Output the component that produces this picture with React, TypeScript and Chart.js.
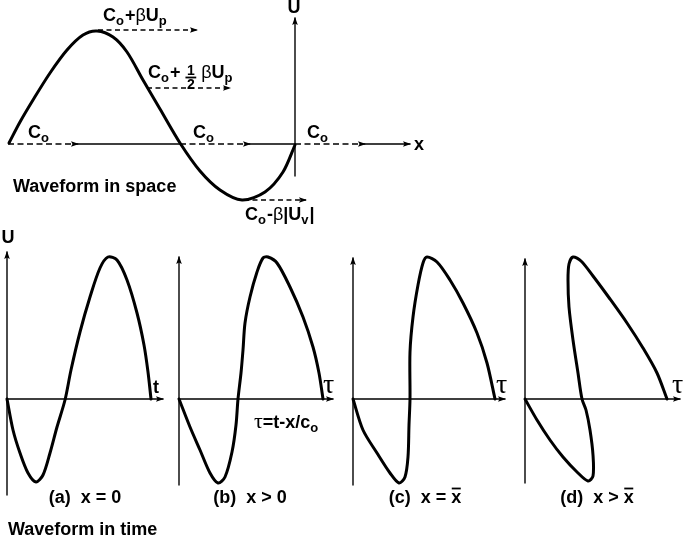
import React, { useEffect, useRef } from "react";
import { Chart, registerables } from "chart.js";

Chart.register(...registerables);

type P = [number, number];

// ---- Waveform in space ----
const SPACE_WAVE: P[] = [
  [9, 143], [20, 122], [33, 100], [50, 73], [67, 50], [83, 35], [97, 31], [113, 37],
  [127, 52], [143, 80], [160, 109], [180, 143], [200, 171], [220, 190], [242, 200],
  [265, 192], [283, 172], [295, 145],
];
const SPACE_AXIS_DASHED: P[][] = [
  [[8, 144], [78, 144]],
  [[180, 144], [250, 144]],
  [[295, 144], [365, 144]],
];
const SPACE_AXIS_SOLID: P[][] = [
  [[78, 144], [180, 144]],
  [[250, 144], [295, 144]],
  [[365, 144], [410, 144]],
];
const SPACE_U_AXIS: P[] = [[295, 176], [295, 18]];
const LEVEL_ARROWS: P[][] = [
  [[98, 30], [197, 30]],
  [[147, 88], [230, 88]],
  [[244, 200], [306, 200]],
];

// ---- Waveforms in time ----
const WAVE_A: P[] = [
  [7, 399], [13, 430], [20, 453], [28, 473], [36, 482], [43, 475], [50, 453], [57, 427],
  [65, 400], [71, 370], [80, 332], [90, 297], [100, 268], [108, 257], [117, 260],
  [127, 280], [137, 313], [144, 345], [148, 372], [151, 399],
];
const WAVE_B: P[] = [
  [179, 399], [190, 427], [200, 450], [210, 473], [218, 483], [225, 477], [232, 452],
  [236, 425], [238, 399], [241, 373], [243, 350], [245, 323], [250, 297], [257, 272],
  [263, 258], [268, 257], [277, 263], [290, 287], [303, 317], [313, 347], [319, 373], [323, 399],
];
const WAVE_C: P[] = [
  [353, 399], [363, 430], [377, 453], [390, 473], [399, 483], [405, 477], [408, 457],
  [409, 425], [410, 399], [410, 352], [413, 317], [418, 285], [423, 263], [427, 257],
  [437, 262], [450, 280], [463, 303], [477, 333], [487, 363], [495, 399],
];
const WAVE_D: P[] = [
  [525, 399], [537, 420], [550, 440], [563, 457], [577, 472], [588, 481], [593, 476],
  [593, 455], [590, 430], [586, 410], [582, 399], [578, 373], [573, 340], [569, 307],
  [568, 280], [569, 264], [573, 257], [581, 261], [593, 276], [610, 299], [627, 323],
  [643, 348], [657, 373], [667, 399],
];
const TIME_AXES_V: P[][] = [
  [[7, 495], [7, 252]],
  [[179, 485], [179, 257]],
  [[353, 485], [353, 258]],
  [[525, 483], [525, 259]],
];
const TIME_AXES_H: P[][] = [
  [[7, 399], [163, 399]],
  [[179, 399], [333, 399]],
  [[353, 399], [505, 399]],
  [[525, 399], [680, 399]],
];

// ---- Texts (anchor x, baseline y, alignment) ----
const LABEL_TEXTS: string[] = [
  "C_o+βU_p", "C_o+ {1/2} βU_p", "C_o", "C_o", "C_o", "C_o-β|U_v|", "Waveform in space",
  "U", "x", "U", "t", "τ", "τ", "τ", "τ=t-x/c_o",
  "(a)  x = 0", "(b)  x > 0", "(c)  x = ^x", "(d)  x > ^x", "Waveform in time",
];
const LABEL_ANCHORS: P[] = [
  [103, 21], [148, 78], [28, 138], [193, 138], [307, 138], [245, 220], [13, 192],
  [294, 13], [414, 150], [8, 243], [153, 393], [323, 393], [496, 393], [672, 393], [254, 428],
  [85, 503], [250, 503], [425, 503], [597, 503], [8, 535],
];
const LABEL_ALIGN: string[] = [
  "left", "left", "left", "left", "left", "left", "left",
  "center", "left", "center", "left", "left", "left", "left", "left",
  "center", "center", "center", "center", "left",
];

const toXY = (pts: P[]) => pts.map(([x, y]) => ({ x, y }));

type Run = { text: string; kind: "n" | "sub" | "frac" | "over" };

function parseRich(s: string): Run[] {
  const runs: Run[] = [];
  let buf = "";
  const flush = () => {
    if (buf) runs.push({ text: buf, kind: "n" });
    buf = "";
  };
  for (let i = 0; i < s.length; i++) {
    const c = s[i];
    if (c === "_") {
      flush();
      runs.push({ text: s[++i], kind: "sub" });
    } else if (c === "^") {
      flush();
      runs.push({ text: s[++i], kind: "over" });
    } else if (c === "{") {
      flush();
      const end = s.indexOf("}", i);
      runs.push({ text: s.slice(i + 1, end), kind: "frac" });
      i = end;
    } else if (c === "β" || c === "τ") {
      flush();
      runs.push({ text: c, kind: "n" });
    } else {
      buf += c;
    }
  }
  flush();
  return runs;
}

const S = 18;
let tauSize = 22;
const fontFor = (t: string, size: number) => {
  if (t === "τ") return `${tauSize}px "Liberation Serif"`;
  if (t === "β") return `${size}px "Liberation Sans"`;
  return `bold ${size}px "Liberation Sans"`;
};

function runWidth(ctx: CanvasRenderingContext2D, r: Run): number {
  if (r.kind === "sub") {
    ctx.font = fontFor(r.text, Math.round(S * 0.72));
    return ctx.measureText(r.text).width + 1;
  }
  if (r.kind === "frac") {
    const [a, b] = r.text.split("/");
    ctx.font = fontFor(a, 14);
    return Math.max(ctx.measureText(a).width, ctx.measureText(b).width) + 3;
  }
  ctx.font = fontFor(r.text, S);
  return ctx.measureText(r.text).width;
}

function drawRich(ctx: CanvasRenderingContext2D, s: string, x: number, y: number, align: string) {
  tauSize = s === "τ" ? 28 : 22;
  const runs = parseRich(s);
  const widths = runs.map((r) => runWidth(ctx, r));
  const total = widths.reduce((a, b) => a + b, 0);
  let cx = align === "center" ? x - total / 2 : x;
  ctx.fillStyle = "#000";
  ctx.strokeStyle = "#000";
  ctx.textBaseline = "alphabetic";
  ctx.textAlign = "left";
  runs.forEach((r, i) => {
    const w = widths[i];
    if (r.kind === "sub") {
      ctx.font = fontFor(r.text, Math.round(S * 0.72));
      ctx.fillText(r.text, cx, y + 4);
    } else if (r.kind === "frac") {
      const [a, b] = r.text.split("/");
      ctx.font = fontFor(a, 14);
      const wa = ctx.measureText(a).width;
      const wb = ctx.measureText(b).width;
      ctx.fillText(a, cx + (w - wa) / 2, y - 3);
      ctx.fillText(b, cx + (w - wb) / 2, y + 11);
      ctx.lineWidth = 1.8;
      ctx.beginPath();
      ctx.moveTo(cx, y - 0.5);
      ctx.lineTo(cx + w, y - 0.5);
      ctx.stroke();
    } else if (r.kind === "over") {
      ctx.font = fontFor(r.text, S);
      ctx.fillText(r.text, cx, y);
      ctx.lineWidth = 1.8;
      ctx.beginPath();
      ctx.moveTo(cx + 0.5, y - 14.5);
      ctx.lineTo(cx + w - 0.5, y - 14.5);
      ctx.stroke();
    } else {
      ctx.font = fontFor(r.text, S);
      ctx.fillText(r.text, cx, y);
    }
    cx += w;
  });
}

const arrowPlugin = {
  id: "arrowheads",
  afterDatasetsDraw(chart: any) {
    const ctx: CanvasRenderingContext2D = chart.ctx;
    chart.data.datasets.forEach((ds: any, i: number) => {
      if (!ds.arrow) return;
      const pts = chart.getDatasetMeta(i).data;
      const a = pts[pts.length - 2];
      const b = pts[pts.length - 1];
      const ang = Math.atan2(b.y - a.y, b.x - a.x);
      const L = 7;
      const W = 2.8;
      ctx.save();
      ctx.fillStyle = "#000";
      ctx.translate(b.x, b.y);
      ctx.rotate(ang);
      ctx.beginPath();
      ctx.moveTo(1, 0);
      ctx.lineTo(-L, -W);
      ctx.lineTo(-L + 1.5, 0);
      ctx.lineTo(-L, W);
      ctx.closePath();
      ctx.fill();
      ctx.restore();
    });
  },
};

const textPlugin = {
  id: "texts",
  afterDraw(chart: any) {
    const ctx: CanvasRenderingContext2D = chart.ctx;
    const xs = chart.scales.x;
    const ys = chart.scales.y;
    ctx.save();
    LABEL_TEXTS.forEach((t, i) => {
      const [x, y] = LABEL_ANCHORS[i];
      drawRich(ctx, t, xs.getPixelForValue(x), ys.getPixelForValue(y), LABEL_ALIGN[i]);
    });
    ctx.restore();
  },
};

export default function App() {
  const ref = useRef<HTMLCanvasElement | null>(null);

  useEffect(() => {
    document.body.style.margin = "0";
    const canvas = ref.current;
    if (!canvas) return;

    const line = (pts: P[], opts: any) => ({
      data: toXY(pts),
      showLine: true,
      pointRadius: 0,
      borderColor: "#000",
      backgroundColor: "#000",
      fill: false,
      tension: 0,
      borderCapStyle: "round",
      borderJoinStyle: "round",
      ...opts,
    });

    const curve = { borderWidth: 3, tension: 0.3 };

    const datasets: any[] = [
      ...SPACE_AXIS_DASHED.map((p) => line(p, { borderWidth: 1.4, borderDash: [6, 3.5], arrow: true, borderCapStyle: "butt" })),
      ...SPACE_AXIS_SOLID.map((p, i) => line(p, { borderWidth: 1.4, arrow: i === SPACE_AXIS_SOLID.length - 1 })),
      line(SPACE_U_AXIS, { borderWidth: 1.4, arrow: true }),
      ...LEVEL_ARROWS.map((p) => line(p, { borderWidth: 1.4, borderDash: [5, 3.5], arrow: true, borderCapStyle: "butt" })),
      ...TIME_AXES_V.map((p) => line(p, { borderWidth: 1.4, arrow: true })),
      ...TIME_AXES_H.map((p) => line(p, { borderWidth: 1.4, arrow: true })),
      line(SPACE_WAVE, curve),
      line(WAVE_A, curve),
      line(WAVE_B, curve),
      line(WAVE_C, curve),
      line(WAVE_D, curve),
    ];

    const chart = new Chart(canvas, {
      type: "scatter",
      data: { datasets },
      options: {
        animation: false,
        responsive: false,
        maintainAspectRatio: false,
        events: [],
        layout: { padding: 0 },
        plugins: { legend: { display: false }, tooltip: { enabled: false } },
        scales: {
          x: { type: "linear", min: 0, max: 685, display: false },
          y: { type: "linear", min: 0, max: 538, reverse: true, display: false },
        },
      },
      plugins: [arrowPlugin, textPlugin],
    } as any);

    return () => chart.destroy();
  }, []);

  return (
    <div style={{ width: 685, height: 538, background: "#fff" }}>
      <canvas ref={ref} width={685} height={538} style={{ display: "block" }} />
    </div>
  );
}
